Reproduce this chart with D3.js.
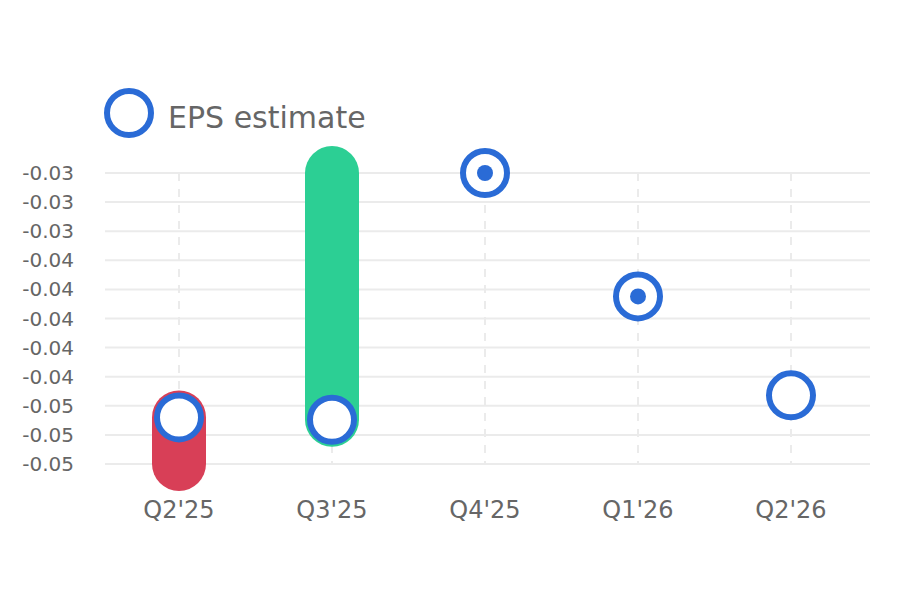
<!DOCTYPE html>
<html><head><meta charset="utf-8">
<script src="https://cdn.jsdelivr.net/npm/d3@7"></script>
<style>body{margin:0;background:#fff}text{font-family:"DejaVu Sans",sans-serif}</style>
</head><body>
<script>
var quarters = ["Q2'25", "Q3'25", "Q4'25", "Q1'26", "Q2'26"];
var estimates = [-0.0485, -0.0487, -0.0275, -0.0381, -0.0466];
var actuals = [-0.0525, -0.0275, null, null, null];
var marked = [false, false, true, true, false];
var yTicks = d3.range(11).map(function(i) { return -0.0275 - i * 0.0025; });

var w = 900, h = 600;
var svg = d3.select("body").append("svg").attr("width", w).attr("height", h);

var x = d3.scalePoint().domain(quarters).range([179, 791]);
var y = d3.scaleLinear().domain([-0.0525, -0.0275]).range([464, 173]);

//horizontal grid
svg.selectAll("line.h").data(yTicks).enter().append("line")
   .attr("x1", 105).attr("x2", 870)
   .attr("y1", function(d) { return y(d); }).attr("y2", function(d) { return y(d); })
   .attr("stroke", "#ebebeb").attr("stroke-width", 2);

//vertical dashed grid
svg.selectAll("line.v").data(quarters).enter().append("line")
   .attr("x1", function(d) { return x(d); }).attr("x2", function(d) { return x(d); })
   .attr("y1", 173).attr("y2", 464)
   .attr("stroke", "#ebebeb").attr("stroke-width", 2).attr("stroke-dasharray", "8,8");

svg.selectAll("text.y").data(yTicks).enter().append("text")
   .attr("x", 74).attr("y", function(d) { return y(d) + 7; })
   .attr("text-anchor", "end").attr("font-size", 20).attr("fill", "#666")
   .text(function(d) { return d.toFixed(2); });

svg.selectAll("text.x").data(quarters).enter().append("text")
   .attr("x", function(d) { return x(d); }).attr("y", 518)
   .attr("text-anchor", "middle").attr("font-size", 24).attr("fill", "#666")
   .text(function(d) { return d; });

//bars from estimate to actual
quarters.forEach(function(q, i) {
  if (actuals[i] === null) return;
  svg.append("line")
     .attr("x1", x(q)).attr("x2", x(q))
     .attr("y1", y(estimates[i])).attr("y2", y(actuals[i]))
     .attr("stroke", actuals[i] > estimates[i] ? "#2ccf94" : "#d83f57")
     .attr("stroke-width", 54).attr("stroke-linecap", "round");
});

svg.selectAll("circle.e").data(quarters).enter().append("circle")
   .attr("cx", function(d) { return x(d); })
   .attr("cy", function(d, i) { return y(estimates[i]); })
   .attr("r", 22).attr("fill", "#fff").attr("stroke", "#2a6bd6").attr("stroke-width", 6);

svg.selectAll("circle.d").data(quarters.filter(function(d, i) { return marked[i]; })).enter().append("circle")
   .attr("cx", function(d) { return x(d); })
   .attr("cy", function(d) { return y(estimates[quarters.indexOf(d)]); })
   .attr("r", 8).attr("fill", "#2a6bd6");

//legend
svg.append("circle").attr("cx", 129).attr("cy", 113).attr("r", 22)
   .attr("fill", "#fff").attr("stroke", "#2a6bd6").attr("stroke-width", 6);
svg.append("text").attr("x", 168).attr("y", 128).attr("font-size", 30).attr("fill", "#666")
   .text("EPS estimate");
</script>
</body></html>
